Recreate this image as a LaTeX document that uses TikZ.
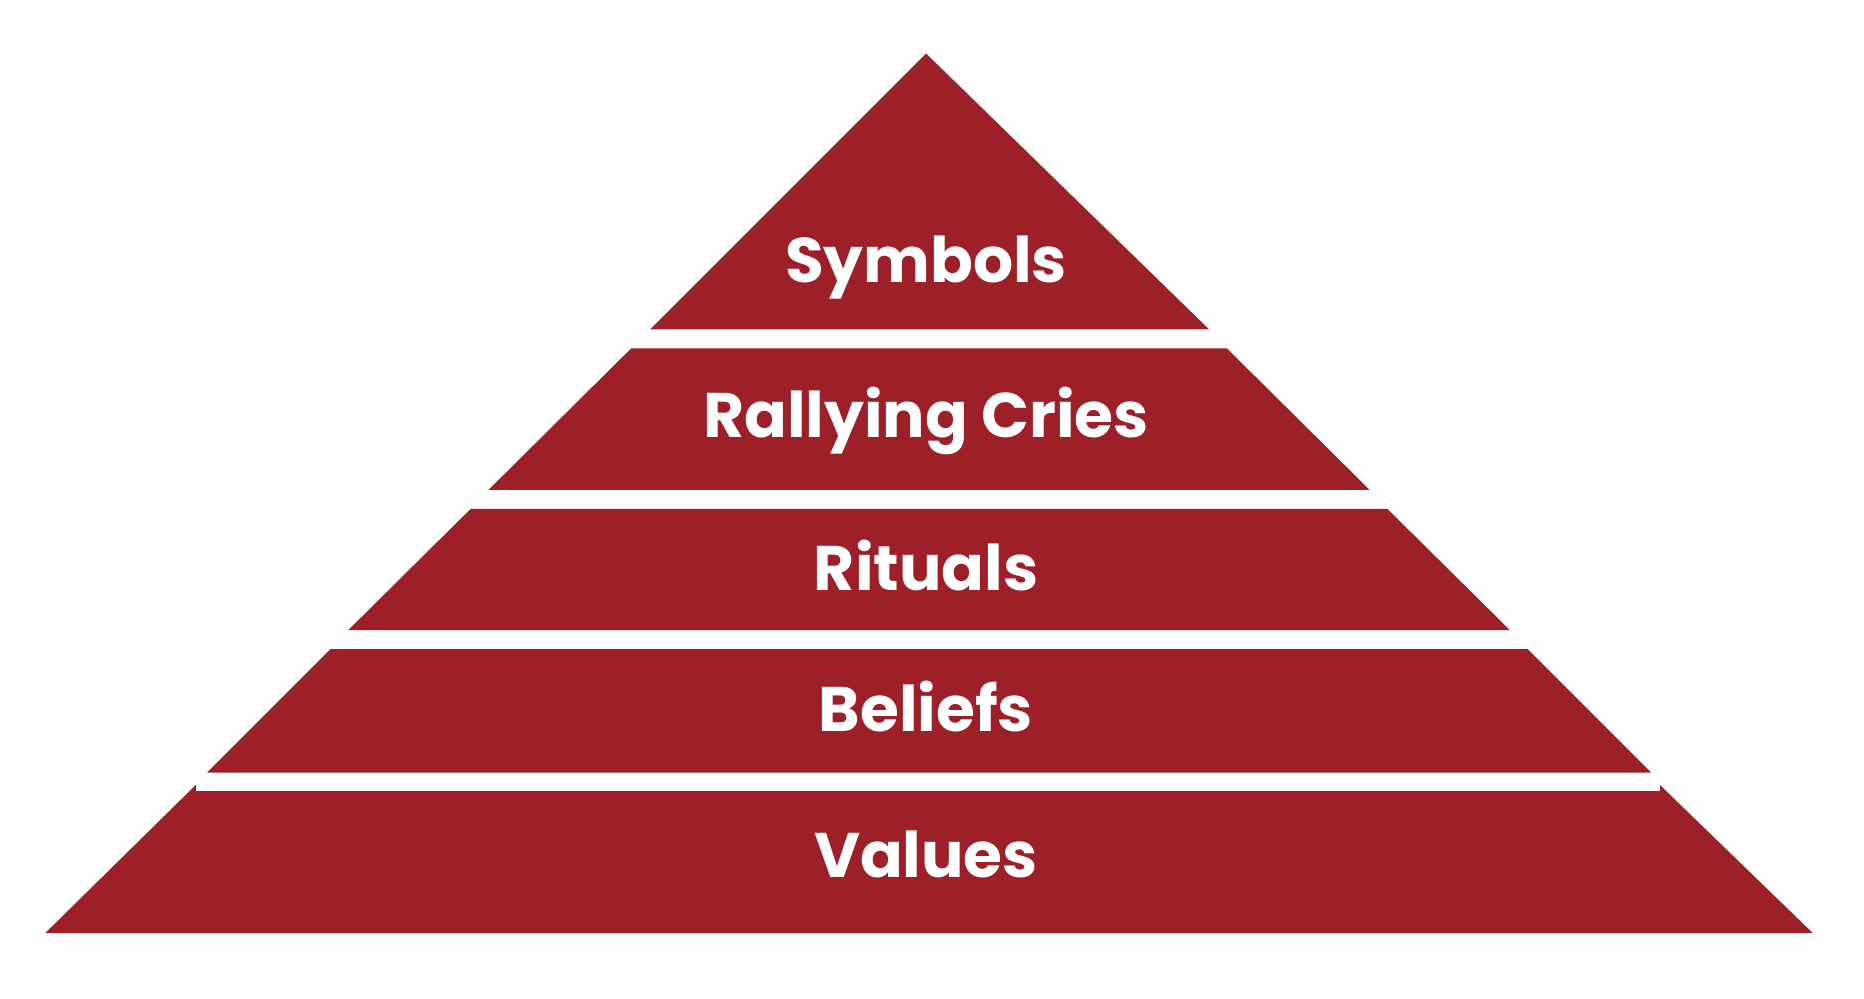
\documentclass[tikz,border=0pt]{standalone}
\usepackage{fontspec}
\setmainfont{Poppins}
\definecolor{pyr}{HTML}{9D1F27}
\begin{document}
\begin{tikzpicture}[x=1pt,y=-1pt,
  layer/.style={fill=pyr,draw=none},
  lbl/.style={text=white,font=\fontsize{53}{58}\selectfont\bfseries,anchor=base}]
\useasboundingbox (0,0) rectangle (1568,840);
\fill[layer] (779,45) -- (1017,277) -- (547,277) -- cycle;
\fill[layer] (531,293) -- (1032,293) -- (1152,412) -- (411,412) -- cycle;
\fill[layer] (396,428) -- (1167,428) -- (1270,530) -- (293,530) -- cycle;
\fill[layer] (278,546) -- (1285,546) -- (1389,650) -- (174,650) -- cycle;
\fill[layer] (165,660) -- (1396,660) -- (1525,785) -- (38,785) -- cycle;
\fill[white] (165,650) rectangle (1396,665);
\node[lbl] (s) at (779,238) {Symbols};
\node[lbl] (r) at (779,368) {Rallying Cries};
\node[lbl] (t) at (779,497) {Rituals};
\node[lbl] (b) at (779,615) {Beliefs};
\node[lbl] (v) at (779,738) {Values};
\end{tikzpicture}
\end{document}
